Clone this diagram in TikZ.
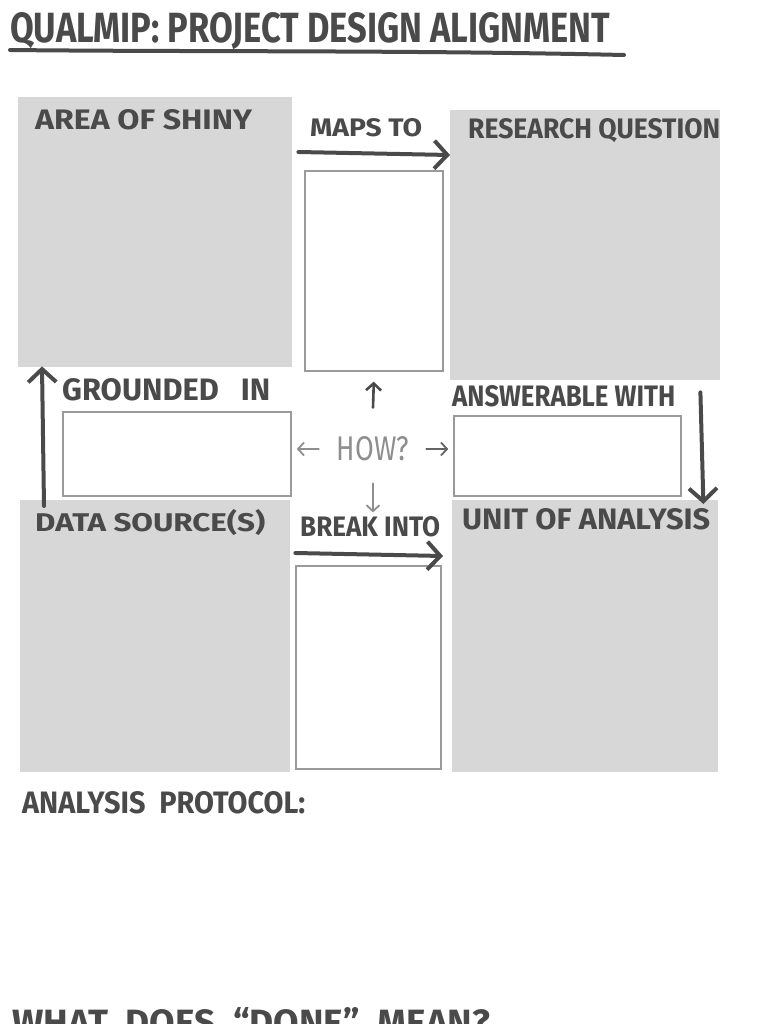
\documentclass[tikz,border=0pt]{standalone}
\usepackage{fontspec}
\setmainfont{Fira Sans}
\usetikzlibrary{arrows.meta}
\definecolor{ink}{HTML}{4A4A4A}
\definecolor{pad}{HTML}{D7D7D7}
\definecolor{pencil}{HTML}{9A9A9A}
\definecolor{soft}{HTML}{8E8E8E}
\newcommand{\fitw}[3]{\resizebox{#1pt}{#2pt}{\bfseries #3}}
\begin{document}
\begin{tikzpicture}[x=1pt,y=-1pt,
  padbox/.style={fill=pad, draw=none, inner sep=0pt, anchor=north west},
  slot/.style={draw=pencil, line width=1.6pt, fill=white, inner sep=0pt, anchor=north west},
  lbl/.style={anchor=west, inner sep=0pt, text=ink},
  bigarrow/.style={draw=ink, line width=4pt, line cap=round, -{Straight Barb[length=13pt,width=28pt]}},
  smallarrow/.style={draw=ink, line width=2.6pt, line cap=round, -{Straight Barb[length=7pt,width=15pt]}},
  thinarrow/.style={draw=soft, line width=1.8pt, line cap=round, -{Straight Barb[length=6pt,width=13pt]}}]
\clip (0,0) rectangle (768,1024);
\fill[white] (0,0) rectangle (768,1024);

% title
\node[lbl] (title) at (10,31) {\fitw{600}{30}{QUALMIP: PROJECT DESIGN ALIGNMENT}};
\coordinate (ulA) at (10,50);
\coordinate (ulB) at (624,55);
\draw[ink, line width=4pt, line cap=round] (ulA) .. controls (200,52) and (400,50) .. (ulB);

% grey pads
\node[padbox, minimum width=274pt, minimum height=270pt] (shiny) at (18,97) {};
\node[padbox, minimum width=270pt, minimum height=270pt] (rq) at (450,110) {};
\node[padbox, minimum width=270pt, minimum height=272pt] (data) at (20,500) {};
\node[padbox, minimum width=266pt, minimum height=272pt] (unit) at (452,500) {};

% white slots
\node[slot, minimum width=138pt, minimum height=200pt] (maps) at (304,170) {};
\node[slot, minimum width=228pt, minimum height=84pt] (ground) at (62,411) {};
\node[slot, minimum width=227pt, minimum height=80pt] (answer) at (453,415) {};
\node[slot, minimum width=145pt, minimum height=203pt] (breakbox) at (295,565) {};

% labels
\node[lbl] (lshiny) at (35,120) {\fitw{217}{20}{AREA OF SHINY}};
\node[lbl] (lmaps) at (310,128) {\fitw{112}{18}{MAPS TO}};
\node[lbl] (lrq) at (468,131) {\fitw{252}{20}{RESEARCH QUESTION}};
\node[lbl] (lground) at (62,390) {\fitw{208}{22}{GROUNDED \ \ IN}};
\node[lbl] (lanswer) at (452,396) {\fitw{223}{21}{ANSWERABLE WITH}};
\node[lbl] (ldata) at (35,523) {\fitw{230}{22}{DATA SOURCE(S)}};
\node[lbl] (lbreak) at (300,527) {\fitw{140}{20}{BREAK INTO}};
\node[lbl] (lunit) at (462,519) {\fitw{248}{21}{UNIT OF ANALYSIS}};
\node[lbl] (lprot) at (22,803) {\fitw{283}{22}{ANALYSIS \ PROTOCOL:}};
\node[lbl] (ldone) at (12,1022) {\fitw{478}{28}{WHAT \ DOES \ “DONE” \ MEAN?}};

% HOW?
\node[inner sep=0pt, text=soft] (how) at (373,449) {\resizebox{72pt}{24pt}{HOW?}};

% connectors
\coordinate (mA) at ([xshift=6pt,yshift=-55pt]shiny.north east);
\coordinate (mB) at ([yshift=-45pt]rq.north west);
\draw[bigarrow] (mA) -- (mB);

\coordinate (gA) at ([xshift=24pt,yshift=-6pt]data.north west);
\coordinate (gB) at ([xshift=24pt,yshift=1pt]shiny.south west);
\draw[bigarrow] (gA) -- (gB);

\coordinate (aA) at ([xshift=-20pt,yshift=-12pt]rq.south east);
\coordinate (aB) at ([xshift=-15pt,yshift=-4pt]unit.north east);
\draw[bigarrow] (aA) -- (aB);

\coordinate (bA) at ([xshift=5pt,yshift=-53pt]data.north east);
\coordinate (bB) at ([xshift=-9pt,yshift=-56pt]unit.north west);
\draw[bigarrow] (bA) -- (bB);

\draw[smallarrow] ([yshift=29pt]how.north) -- ([yshift=-10pt]maps.south);
\draw[thinarrow] ([xshift=-18pt]how.west) -- ([xshift=-40pt]how.west);
\draw[thinarrow, draw=ink!85] ([xshift=17pt]how.east) -- ([xshift=39pt]how.east);
\draw[thinarrow] ([yshift=-22pt]how.south) -- ([yshift=-51pt]how.south);
\end{tikzpicture}
\end{document}
